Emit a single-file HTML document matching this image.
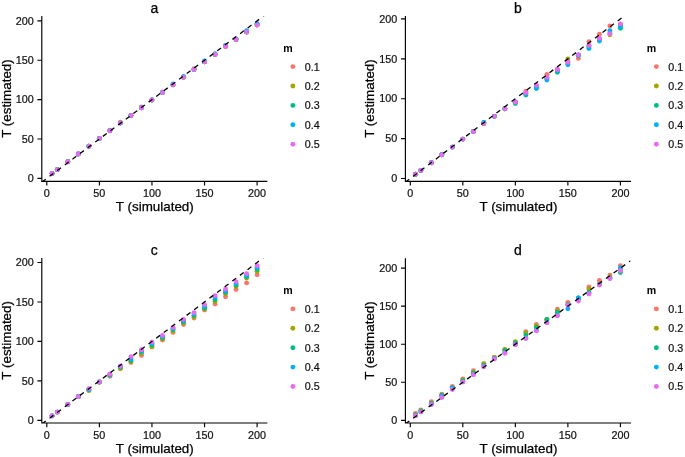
<!DOCTYPE html>
<html><head><meta charset="utf-8"><style>
html,body{margin:0;padding:0;background:#fff;}
svg{display:block;}
text{font-family:"Liberation Sans",Arial,sans-serif;fill:#000;}
.tk{font-size:10.8px;fill:#111;stroke:#111;stroke-width:0.22px;}
.lg{font-size:10.7px;fill:#111;stroke:#111;stroke-width:0.22px;}
.ti{font-size:13.4px;stroke:#000;stroke-width:0.25px;}
.pt{font-size:14.0px;stroke:#000;stroke-width:0.25px;}
.lt{font-size:10.6px;font-weight:bold;}
</style></head><body>
<svg width="685" height="457" viewBox="0 0 685 457">
<rect width="685" height="457" fill="#fff"/>
<clipPath id="clipa"><rect x="41.8" y="16.6" width="225" height="164.7"/></clipPath>
<g clip-path="url(#clipa)">
<circle cx="52.06" cy="173.56" r="2.45" fill="#F8766D"/>
<circle cx="52.06" cy="173.56" r="2.45" fill="#A3A500"/>
<circle cx="52.06" cy="173.56" r="2.45" fill="#00BF7D"/>
<circle cx="52.06" cy="173.56" r="2.45" fill="#00B0F6"/>
<circle cx="52.06" cy="173.56" r="2.45" fill="#E76BF3"/>
<circle cx="57.31" cy="169.62" r="2.45" fill="#F8766D"/>
<circle cx="57.31" cy="169.62" r="2.45" fill="#A3A500"/>
<circle cx="57.31" cy="169.62" r="2.45" fill="#00BF7D"/>
<circle cx="57.31" cy="169.62" r="2.45" fill="#00B0F6"/>
<circle cx="57.31" cy="169.62" r="2.45" fill="#E76BF3"/>
<circle cx="67.83" cy="161.75" r="2.45" fill="#F8766D"/>
<circle cx="67.83" cy="161.75" r="2.45" fill="#A3A500"/>
<circle cx="67.83" cy="161.75" r="2.45" fill="#00BF7D"/>
<circle cx="67.83" cy="161.75" r="2.45" fill="#00B0F6"/>
<circle cx="67.83" cy="161.75" r="2.45" fill="#E76BF3"/>
<circle cx="78.34" cy="153.97" r="2.45" fill="#F8766D"/>
<circle cx="78.34" cy="153.97" r="2.45" fill="#A3A500"/>
<circle cx="78.34" cy="153.97" r="2.45" fill="#00BF7D"/>
<circle cx="78.34" cy="153.97" r="2.45" fill="#00B0F6"/>
<circle cx="78.34" cy="153.97" r="2.45" fill="#E76BF3"/>
<circle cx="88.86" cy="146.2" r="2.45" fill="#F8766D"/>
<circle cx="88.86" cy="146.2" r="2.45" fill="#A3A500"/>
<circle cx="88.86" cy="146.2" r="2.45" fill="#00BF7D"/>
<circle cx="88.86" cy="146.2" r="2.45" fill="#00B0F6"/>
<circle cx="88.86" cy="146.2" r="2.45" fill="#E76BF3"/>
<circle cx="99.38" cy="138.43" r="2.45" fill="#F8766D"/>
<circle cx="99.38" cy="138.43" r="2.45" fill="#A3A500"/>
<circle cx="99.38" cy="138.43" r="2.45" fill="#00BF7D"/>
<circle cx="99.38" cy="138.43" r="2.45" fill="#00B0F6"/>
<circle cx="99.38" cy="138.43" r="2.45" fill="#E76BF3"/>
<circle cx="109.89" cy="130.15" r="2.45" fill="#F8766D"/>
<circle cx="109.89" cy="130.75" r="2.45" fill="#A3A500"/>
<circle cx="109.89" cy="130.75" r="2.45" fill="#00BF7D"/>
<circle cx="109.89" cy="130.75" r="2.45" fill="#00B0F6"/>
<circle cx="109.89" cy="130.75" r="2.45" fill="#E76BF3"/>
<circle cx="120.41" cy="122.18" r="2.45" fill="#F8766D"/>
<circle cx="120.41" cy="123.08" r="2.45" fill="#A3A500"/>
<circle cx="120.41" cy="123.08" r="2.45" fill="#00BF7D"/>
<circle cx="120.41" cy="123.08" r="2.45" fill="#00B0F6"/>
<circle cx="120.41" cy="123.08" r="2.45" fill="#E76BF3"/>
<circle cx="130.92" cy="115.4" r="2.45" fill="#F8766D"/>
<circle cx="130.92" cy="115.4" r="2.45" fill="#A3A500"/>
<circle cx="130.92" cy="115.4" r="2.45" fill="#00BF7D"/>
<circle cx="130.92" cy="115.4" r="2.45" fill="#00B0F6"/>
<circle cx="130.92" cy="115.4" r="2.45" fill="#E76BF3"/>
<circle cx="141.44" cy="106.83" r="2.45" fill="#F8766D"/>
<circle cx="141.44" cy="107.73" r="2.45" fill="#A3A500"/>
<circle cx="141.44" cy="107.73" r="2.45" fill="#00BF7D"/>
<circle cx="141.44" cy="107.73" r="2.45" fill="#00B0F6"/>
<circle cx="141.44" cy="107.73" r="2.45" fill="#E76BF3"/>
<circle cx="151.95" cy="100.05" r="2.45" fill="#F8766D"/>
<circle cx="151.95" cy="100.05" r="2.45" fill="#A3A500"/>
<circle cx="151.95" cy="100.05" r="2.45" fill="#00BF7D"/>
<circle cx="151.95" cy="100.05" r="2.45" fill="#00B0F6"/>
<circle cx="151.95" cy="100.05" r="2.45" fill="#E76BF3"/>
<circle cx="162.47" cy="91.98" r="2.45" fill="#F8766D"/>
<circle cx="162.47" cy="92.58" r="2.45" fill="#A3A500"/>
<circle cx="162.47" cy="92.58" r="2.45" fill="#00BF7D"/>
<circle cx="162.47" cy="92.58" r="2.45" fill="#00B0F6"/>
<circle cx="162.47" cy="92.58" r="2.45" fill="#E76BF3"/>
<circle cx="172.98" cy="84.9" r="2.45" fill="#F8766D"/>
<circle cx="172.98" cy="84.9" r="2.45" fill="#A3A500"/>
<circle cx="172.98" cy="84.9" r="2.45" fill="#00BF7D"/>
<circle cx="172.98" cy="84" r="2.45" fill="#00B0F6"/>
<circle cx="172.98" cy="84.9" r="2.45" fill="#E76BF3"/>
<circle cx="183.5" cy="77.23" r="2.45" fill="#F8766D"/>
<circle cx="183.5" cy="77.23" r="2.45" fill="#A3A500"/>
<circle cx="183.5" cy="77.23" r="2.45" fill="#00BF7D"/>
<circle cx="183.5" cy="76.33" r="2.45" fill="#00B0F6"/>
<circle cx="183.5" cy="77.23" r="2.45" fill="#E76BF3"/>
<circle cx="194.01" cy="68.65" r="2.45" fill="#F8766D"/>
<circle cx="194.01" cy="69.55" r="2.45" fill="#A3A500"/>
<circle cx="194.01" cy="69.55" r="2.45" fill="#00BF7D"/>
<circle cx="194.01" cy="69.55" r="2.45" fill="#00B0F6"/>
<circle cx="194.01" cy="69.55" r="2.45" fill="#E76BF3"/>
<circle cx="204.53" cy="61.88" r="2.45" fill="#F8766D"/>
<circle cx="204.53" cy="61.88" r="2.45" fill="#A3A500"/>
<circle cx="204.53" cy="61.88" r="2.45" fill="#00BF7D"/>
<circle cx="204.53" cy="60.88" r="2.45" fill="#00B0F6"/>
<circle cx="204.53" cy="61.88" r="2.45" fill="#E76BF3"/>
<circle cx="215.04" cy="54.4" r="2.45" fill="#F8766D"/>
<circle cx="215.04" cy="54.4" r="2.45" fill="#A3A500"/>
<circle cx="215.04" cy="54.4" r="2.45" fill="#00BF7D"/>
<circle cx="215.04" cy="53.7" r="2.45" fill="#00B0F6"/>
<circle cx="215.04" cy="54.4" r="2.45" fill="#E76BF3"/>
<circle cx="225.56" cy="46.53" r="2.45" fill="#F8766D"/>
<circle cx="225.56" cy="46.53" r="2.45" fill="#A3A500"/>
<circle cx="225.56" cy="45.73" r="2.45" fill="#00BF7D"/>
<circle cx="225.56" cy="45.43" r="2.45" fill="#00B0F6"/>
<circle cx="225.56" cy="46.53" r="2.45" fill="#E76BF3"/>
<circle cx="236.07" cy="39.55" r="2.45" fill="#F8766D"/>
<circle cx="236.07" cy="39.55" r="2.45" fill="#A3A500"/>
<circle cx="236.07" cy="39.55" r="2.45" fill="#00BF7D"/>
<circle cx="236.07" cy="38.85" r="2.45" fill="#00B0F6"/>
<circle cx="236.07" cy="39.55" r="2.45" fill="#E76BF3"/>
<circle cx="246.59" cy="31.98" r="2.45" fill="#F8766D"/>
<circle cx="246.59" cy="31.98" r="2.45" fill="#A3A500"/>
<circle cx="246.59" cy="31.98" r="2.45" fill="#00BF7D"/>
<circle cx="246.59" cy="30.78" r="2.45" fill="#00B0F6"/>
<circle cx="246.59" cy="31.98" r="2.45" fill="#E76BF3"/>
<circle cx="257.1" cy="25.1" r="2.45" fill="#F8766D"/>
<circle cx="257.1" cy="25.1" r="2.45" fill="#A3A500"/>
<circle cx="257.1" cy="24.1" r="2.45" fill="#00BF7D"/>
<circle cx="257.1" cy="23.7" r="2.45" fill="#00B0F6"/>
<circle cx="257.1" cy="25.1" r="2.45" fill="#E76BF3"/>
<line x1="41.81" y1="182.14" x2="267.35" y2="13.22" stroke="#000" stroke-width="1.3" stroke-dasharray="4.76 4.76" stroke-dashoffset="9.34"/>
</g>
<path d="M41.8 16.6V181.3H266.8" fill="none" stroke="#000" stroke-width="1.15" stroke-linecap="square"/>
<path d="M46.8 181.3v4.3M41.8 178.4h-4.4M99.38 181.3v4.3M41.8 139.03h-4.4M151.95 181.3v4.3M41.8 99.65h-4.4M204.53 181.3v4.3M41.8 60.28h-4.4M257.1 181.3v4.3M41.8 20.9h-4.4" stroke="#000" stroke-width="1.15"/>
<text x="46.8" y="196.9" text-anchor="middle" class="tk">0</text>
<text x="33.7" y="182.15" text-anchor="end" class="tk">0</text>
<text x="99.38" y="196.9" text-anchor="middle" class="tk">50</text>
<text x="33.7" y="142.78" text-anchor="end" class="tk">50</text>
<text x="151.95" y="196.9" text-anchor="middle" class="tk">100</text>
<text x="33.7" y="103.4" text-anchor="end" class="tk">100</text>
<text x="204.53" y="196.9" text-anchor="middle" class="tk">150</text>
<text x="33.7" y="64.03" text-anchor="end" class="tk">150</text>
<text x="257.1" y="196.9" text-anchor="middle" class="tk">200</text>
<text x="33.7" y="24.65" text-anchor="end" class="tk">200</text>
<text x="154.8" y="211.1" text-anchor="middle" class="ti">T (simulated)</text>
<text transform="translate(10.7 98.55) rotate(-90)" text-anchor="middle" class="ti">T (estimated)</text>
<text x="154.3" y="12.9" text-anchor="middle" class="pt">a</text>
<text x="283.25" y="51.6" class="lt">m</text>
<circle cx="292.85" cy="66.6" r="2.45" fill="#F8766D"/>
<text x="304.75" y="70.5" class="lg">0.1</text>
<circle cx="292.85" cy="86" r="2.45" fill="#A3A500"/>
<text x="304.75" y="89.9" class="lg">0.2</text>
<circle cx="292.85" cy="105.4" r="2.45" fill="#00BF7D"/>
<text x="304.75" y="109.3" class="lg">0.3</text>
<circle cx="292.85" cy="124.8" r="2.45" fill="#00B0F6"/>
<text x="304.75" y="128.7" class="lg">0.4</text>
<circle cx="292.85" cy="144.2" r="2.45" fill="#E76BF3"/>
<text x="304.75" y="148.1" class="lg">0.5</text>
<clipPath id="clipb"><rect x="405.4" y="16.6" width="225.1" height="164.7"/></clipPath>
<g clip-path="url(#clipb)">
<circle cx="415.55" cy="174.31" r="2.45" fill="#F8766D"/>
<circle cx="415.55" cy="174.31" r="2.45" fill="#A3A500"/>
<circle cx="415.55" cy="174.31" r="2.45" fill="#00BF7D"/>
<circle cx="415.55" cy="174.31" r="2.45" fill="#00B0F6"/>
<circle cx="415.55" cy="174.31" r="2.45" fill="#E76BF3"/>
<circle cx="420.81" cy="170.42" r="2.45" fill="#F8766D"/>
<circle cx="420.81" cy="170.42" r="2.45" fill="#A3A500"/>
<circle cx="420.81" cy="170.42" r="2.45" fill="#00BF7D"/>
<circle cx="420.81" cy="170.42" r="2.45" fill="#00B0F6"/>
<circle cx="420.81" cy="170.42" r="2.45" fill="#E76BF3"/>
<circle cx="431.31" cy="162.74" r="2.45" fill="#F8766D"/>
<circle cx="431.31" cy="162.74" r="2.45" fill="#A3A500"/>
<circle cx="431.31" cy="162.74" r="2.45" fill="#00BF7D"/>
<circle cx="431.31" cy="162.74" r="2.45" fill="#00B0F6"/>
<circle cx="431.31" cy="162.74" r="2.45" fill="#E76BF3"/>
<circle cx="441.81" cy="154.76" r="2.45" fill="#F8766D"/>
<circle cx="441.81" cy="154.76" r="2.45" fill="#A3A500"/>
<circle cx="441.81" cy="154.76" r="2.45" fill="#00BF7D"/>
<circle cx="441.81" cy="154.76" r="2.45" fill="#00B0F6"/>
<circle cx="441.81" cy="154.76" r="2.45" fill="#E76BF3"/>
<circle cx="452.32" cy="147.08" r="2.45" fill="#F8766D"/>
<circle cx="452.32" cy="147.08" r="2.45" fill="#A3A500"/>
<circle cx="452.32" cy="147.08" r="2.45" fill="#00BF7D"/>
<circle cx="452.32" cy="147.08" r="2.45" fill="#00B0F6"/>
<circle cx="452.32" cy="147.08" r="2.45" fill="#E76BF3"/>
<circle cx="462.82" cy="139.1" r="2.45" fill="#F8766D"/>
<circle cx="462.82" cy="139.1" r="2.45" fill="#A3A500"/>
<circle cx="462.82" cy="139.1" r="2.45" fill="#00BF7D"/>
<circle cx="462.82" cy="139.1" r="2.45" fill="#00B0F6"/>
<circle cx="462.82" cy="139.1" r="2.45" fill="#E76BF3"/>
<circle cx="473.33" cy="131.62" r="2.45" fill="#F8766D"/>
<circle cx="473.33" cy="131.62" r="2.45" fill="#A3A500"/>
<circle cx="473.33" cy="131.62" r="2.45" fill="#00BF7D"/>
<circle cx="473.33" cy="131.62" r="2.45" fill="#00B0F6"/>
<circle cx="473.33" cy="131.62" r="2.45" fill="#E76BF3"/>
<circle cx="483.84" cy="123.64" r="2.45" fill="#F8766D"/>
<circle cx="483.84" cy="123.64" r="2.45" fill="#A3A500"/>
<circle cx="483.84" cy="122.44" r="2.45" fill="#00BF7D"/>
<circle cx="483.84" cy="122.34" r="2.45" fill="#00B0F6"/>
<circle cx="483.84" cy="123.64" r="2.45" fill="#E76BF3"/>
<circle cx="494.34" cy="116.36" r="2.45" fill="#F8766D"/>
<circle cx="494.34" cy="116.36" r="2.45" fill="#A3A500"/>
<circle cx="494.34" cy="116.36" r="2.45" fill="#00BF7D"/>
<circle cx="494.34" cy="116.36" r="2.45" fill="#00B0F6"/>
<circle cx="494.34" cy="116.36" r="2.45" fill="#E76BF3"/>
<circle cx="504.85" cy="108.68" r="2.45" fill="#F8766D"/>
<circle cx="504.85" cy="108.68" r="2.45" fill="#A3A500"/>
<circle cx="504.85" cy="108.68" r="2.45" fill="#00BF7D"/>
<circle cx="504.85" cy="108.68" r="2.45" fill="#00B0F6"/>
<circle cx="504.85" cy="108.68" r="2.45" fill="#E76BF3"/>
<circle cx="515.35" cy="102" r="2.45" fill="#F8766D"/>
<circle cx="515.35" cy="102.2" r="2.45" fill="#A3A500"/>
<circle cx="515.35" cy="103.6" r="2.45" fill="#00BF7D"/>
<circle cx="515.35" cy="102.3" r="2.45" fill="#00B0F6"/>
<circle cx="515.35" cy="102.1" r="2.45" fill="#E76BF3"/>
<circle cx="525.86" cy="91.22" r="2.45" fill="#F8766D"/>
<circle cx="525.86" cy="93.72" r="2.45" fill="#A3A500"/>
<circle cx="525.86" cy="95.02" r="2.45" fill="#00BF7D"/>
<circle cx="525.86" cy="93.72" r="2.45" fill="#00B0F6"/>
<circle cx="525.86" cy="92.72" r="2.45" fill="#E76BF3"/>
<circle cx="536.36" cy="85.74" r="2.45" fill="#F8766D"/>
<circle cx="536.36" cy="86.74" r="2.45" fill="#A3A500"/>
<circle cx="536.36" cy="88.54" r="2.45" fill="#00BF7D"/>
<circle cx="536.36" cy="87.74" r="2.45" fill="#00B0F6"/>
<circle cx="536.36" cy="85.34" r="2.45" fill="#E76BF3"/>
<circle cx="546.87" cy="74.36" r="2.45" fill="#F8766D"/>
<circle cx="546.87" cy="77.76" r="2.45" fill="#A3A500"/>
<circle cx="546.87" cy="78.76" r="2.45" fill="#00BF7D"/>
<circle cx="546.87" cy="79.96" r="2.45" fill="#00B0F6"/>
<circle cx="546.87" cy="77.36" r="2.45" fill="#E76BF3"/>
<circle cx="557.37" cy="69.78" r="2.45" fill="#F8766D"/>
<circle cx="557.37" cy="69.78" r="2.45" fill="#A3A500"/>
<circle cx="557.37" cy="72.18" r="2.45" fill="#00BF7D"/>
<circle cx="557.37" cy="70.78" r="2.45" fill="#00B0F6"/>
<circle cx="557.37" cy="69.48" r="2.45" fill="#E76BF3"/>
<circle cx="567.88" cy="61.8" r="2.45" fill="#F8766D"/>
<circle cx="567.88" cy="59" r="2.45" fill="#A3A500"/>
<circle cx="567.88" cy="63.8" r="2.45" fill="#00BF7D"/>
<circle cx="567.88" cy="64.7" r="2.45" fill="#00B0F6"/>
<circle cx="567.88" cy="62.3" r="2.45" fill="#E76BF3"/>
<circle cx="578.38" cy="58.42" r="2.45" fill="#F8766D"/>
<circle cx="578.38" cy="55.32" r="2.45" fill="#A3A500"/>
<circle cx="578.38" cy="55.32" r="2.45" fill="#00BF7D"/>
<circle cx="578.38" cy="55.32" r="2.45" fill="#00B0F6"/>
<circle cx="578.38" cy="54.72" r="2.45" fill="#E76BF3"/>
<circle cx="588.88" cy="41.64" r="2.45" fill="#F8766D"/>
<circle cx="588.88" cy="45.84" r="2.45" fill="#A3A500"/>
<circle cx="588.88" cy="46.84" r="2.45" fill="#00BF7D"/>
<circle cx="588.88" cy="48.54" r="2.45" fill="#00B0F6"/>
<circle cx="588.88" cy="45.54" r="2.45" fill="#E76BF3"/>
<circle cx="599.39" cy="34.16" r="2.45" fill="#F8766D"/>
<circle cx="599.39" cy="38.86" r="2.45" fill="#A3A500"/>
<circle cx="599.39" cy="39.86" r="2.45" fill="#00BF7D"/>
<circle cx="599.39" cy="41.06" r="2.45" fill="#00B0F6"/>
<circle cx="599.39" cy="38.16" r="2.45" fill="#E76BF3"/>
<circle cx="609.89" cy="25.98" r="2.45" fill="#F8766D"/>
<circle cx="609.89" cy="34.78" r="2.45" fill="#A3A500"/>
<circle cx="609.89" cy="32.88" r="2.45" fill="#00BF7D"/>
<circle cx="609.89" cy="30.78" r="2.45" fill="#00B0F6"/>
<circle cx="609.89" cy="33.68" r="2.45" fill="#E76BF3"/>
<circle cx="620.4" cy="24.9" r="2.45" fill="#F8766D"/>
<circle cx="620.4" cy="24.9" r="2.45" fill="#A3A500"/>
<circle cx="620.4" cy="28.3" r="2.45" fill="#00BF7D"/>
<circle cx="620.4" cy="26.8" r="2.45" fill="#00B0F6"/>
<circle cx="620.4" cy="23.9" r="2.45" fill="#E76BF3"/>
<line x1="405.31" y1="182.29" x2="630.64" y2="11.12" stroke="#000" stroke-width="1.3" stroke-dasharray="4.76 4.76" stroke-dashoffset="9.34"/>
</g>
<path d="M405.4 16.6V181.3H630.5" fill="none" stroke="#000" stroke-width="1.15" stroke-linecap="square"/>
<path d="M410.3 181.3v4.3M405.4 178.5h-4.4M462.82 181.3v4.3M405.4 138.6h-4.4M515.35 181.3v4.3M405.4 98.7h-4.4M567.88 181.3v4.3M405.4 58.8h-4.4M620.4 181.3v4.3M405.4 18.9h-4.4" stroke="#000" stroke-width="1.15"/>
<text x="410.3" y="196.9" text-anchor="middle" class="tk">0</text>
<text x="397.3" y="182.25" text-anchor="end" class="tk">0</text>
<text x="462.82" y="196.9" text-anchor="middle" class="tk">50</text>
<text x="397.3" y="142.35" text-anchor="end" class="tk">50</text>
<text x="515.35" y="196.9" text-anchor="middle" class="tk">100</text>
<text x="397.3" y="102.45" text-anchor="end" class="tk">100</text>
<text x="567.88" y="196.9" text-anchor="middle" class="tk">150</text>
<text x="397.3" y="62.55" text-anchor="end" class="tk">150</text>
<text x="620.4" y="196.9" text-anchor="middle" class="tk">200</text>
<text x="397.3" y="22.65" text-anchor="end" class="tk">200</text>
<text x="518.45" y="211.1" text-anchor="middle" class="ti">T (simulated)</text>
<text transform="translate(374.2 98.55) rotate(-90)" text-anchor="middle" class="ti">T (estimated)</text>
<text x="517.95" y="12.9" text-anchor="middle" class="pt">b</text>
<text x="646.75" y="51.6" class="lt">m</text>
<circle cx="656.35" cy="66.6" r="2.45" fill="#F8766D"/>
<text x="668.25" y="70.5" class="lg">0.1</text>
<circle cx="656.35" cy="86" r="2.45" fill="#A3A500"/>
<text x="668.25" y="89.9" class="lg">0.2</text>
<circle cx="656.35" cy="105.4" r="2.45" fill="#00BF7D"/>
<text x="668.25" y="109.3" class="lg">0.3</text>
<circle cx="656.35" cy="124.8" r="2.45" fill="#00B0F6"/>
<text x="668.25" y="128.7" class="lg">0.4</text>
<circle cx="656.35" cy="144.2" r="2.45" fill="#E76BF3"/>
<text x="668.25" y="148.1" class="lg">0.5</text>
<clipPath id="clipc"><rect x="41.8" y="258.5" width="225" height="164.5"/></clipPath>
<g clip-path="url(#clipc)">
<circle cx="52.06" cy="415.86" r="2.45" fill="#F8766D"/>
<circle cx="52.06" cy="415.86" r="2.45" fill="#A3A500"/>
<circle cx="52.06" cy="415.86" r="2.45" fill="#00BF7D"/>
<circle cx="52.06" cy="415.86" r="2.45" fill="#00B0F6"/>
<circle cx="52.06" cy="415.86" r="2.45" fill="#E76BF3"/>
<circle cx="57.31" cy="412.11" r="2.45" fill="#F8766D"/>
<circle cx="57.31" cy="412.11" r="2.45" fill="#A3A500"/>
<circle cx="57.31" cy="412.11" r="2.45" fill="#00BF7D"/>
<circle cx="57.31" cy="412.11" r="2.45" fill="#00B0F6"/>
<circle cx="57.31" cy="412.11" r="2.45" fill="#E76BF3"/>
<circle cx="67.83" cy="404.52" r="2.45" fill="#F8766D"/>
<circle cx="67.83" cy="404.52" r="2.45" fill="#A3A500"/>
<circle cx="67.83" cy="404.52" r="2.45" fill="#00BF7D"/>
<circle cx="67.83" cy="404.52" r="2.45" fill="#00B0F6"/>
<circle cx="67.83" cy="404.52" r="2.45" fill="#E76BF3"/>
<circle cx="78.34" cy="396.63" r="2.45" fill="#F8766D"/>
<circle cx="78.34" cy="396.63" r="2.45" fill="#A3A500"/>
<circle cx="78.34" cy="396.63" r="2.45" fill="#00BF7D"/>
<circle cx="78.34" cy="396.63" r="2.45" fill="#00B0F6"/>
<circle cx="78.34" cy="396.63" r="2.45" fill="#E76BF3"/>
<circle cx="88.86" cy="389.74" r="2.45" fill="#F8766D"/>
<circle cx="88.86" cy="390.64" r="2.45" fill="#A3A500"/>
<circle cx="88.86" cy="389.74" r="2.45" fill="#00BF7D"/>
<circle cx="88.86" cy="389.74" r="2.45" fill="#00B0F6"/>
<circle cx="88.86" cy="388.74" r="2.45" fill="#E76BF3"/>
<circle cx="99.38" cy="382.35" r="2.45" fill="#F8766D"/>
<circle cx="99.38" cy="382.35" r="2.45" fill="#A3A500"/>
<circle cx="99.38" cy="382.05" r="2.45" fill="#00BF7D"/>
<circle cx="99.38" cy="381.85" r="2.45" fill="#00B0F6"/>
<circle cx="99.38" cy="381.65" r="2.45" fill="#E76BF3"/>
<circle cx="109.89" cy="376.26" r="2.45" fill="#F8766D"/>
<circle cx="109.89" cy="375.16" r="2.45" fill="#A3A500"/>
<circle cx="109.89" cy="374.96" r="2.45" fill="#00BF7D"/>
<circle cx="109.89" cy="374.46" r="2.45" fill="#00B0F6"/>
<circle cx="109.89" cy="373.96" r="2.45" fill="#E76BF3"/>
<circle cx="120.41" cy="368.57" r="2.45" fill="#F8766D"/>
<circle cx="120.41" cy="368.57" r="2.45" fill="#A3A500"/>
<circle cx="120.41" cy="367.07" r="2.45" fill="#00BF7D"/>
<circle cx="120.41" cy="366.57" r="2.45" fill="#00B0F6"/>
<circle cx="120.41" cy="365.97" r="2.45" fill="#E76BF3"/>
<circle cx="130.92" cy="362.48" r="2.45" fill="#F8766D"/>
<circle cx="130.92" cy="361.48" r="2.45" fill="#A3A500"/>
<circle cx="130.92" cy="360.48" r="2.45" fill="#00BF7D"/>
<circle cx="130.92" cy="358.98" r="2.45" fill="#00B0F6"/>
<circle cx="130.92" cy="356.68" r="2.45" fill="#E76BF3"/>
<circle cx="141.44" cy="355.39" r="2.45" fill="#F8766D"/>
<circle cx="141.44" cy="353.29" r="2.45" fill="#A3A500"/>
<circle cx="141.44" cy="351.79" r="2.45" fill="#00BF7D"/>
<circle cx="141.44" cy="350.79" r="2.45" fill="#00B0F6"/>
<circle cx="141.44" cy="349.79" r="2.45" fill="#E76BF3"/>
<circle cx="151.95" cy="346.9" r="2.45" fill="#F8766D"/>
<circle cx="151.95" cy="346.7" r="2.45" fill="#A3A500"/>
<circle cx="151.95" cy="344.9" r="2.45" fill="#00BF7D"/>
<circle cx="151.95" cy="343.4" r="2.45" fill="#00B0F6"/>
<circle cx="151.95" cy="342.1" r="2.45" fill="#E76BF3"/>
<circle cx="162.47" cy="340.11" r="2.45" fill="#F8766D"/>
<circle cx="162.47" cy="339.01" r="2.45" fill="#A3A500"/>
<circle cx="162.47" cy="337.51" r="2.45" fill="#00BF7D"/>
<circle cx="162.47" cy="336.51" r="2.45" fill="#00B0F6"/>
<circle cx="162.47" cy="335.51" r="2.45" fill="#E76BF3"/>
<circle cx="172.98" cy="332.42" r="2.45" fill="#F8766D"/>
<circle cx="172.98" cy="331.12" r="2.45" fill="#A3A500"/>
<circle cx="172.98" cy="329.62" r="2.45" fill="#00BF7D"/>
<circle cx="172.98" cy="328.62" r="2.45" fill="#00B0F6"/>
<circle cx="172.98" cy="327.62" r="2.45" fill="#E76BF3"/>
<circle cx="183.5" cy="324.43" r="2.45" fill="#F8766D"/>
<circle cx="183.5" cy="323.23" r="2.45" fill="#A3A500"/>
<circle cx="183.5" cy="321.73" r="2.45" fill="#00BF7D"/>
<circle cx="183.5" cy="320.73" r="2.45" fill="#00B0F6"/>
<circle cx="183.5" cy="319.33" r="2.45" fill="#E76BF3"/>
<circle cx="194.01" cy="317.94" r="2.45" fill="#F8766D"/>
<circle cx="194.01" cy="317.04" r="2.45" fill="#A3A500"/>
<circle cx="194.01" cy="315.34" r="2.45" fill="#00BF7D"/>
<circle cx="194.01" cy="313.84" r="2.45" fill="#00B0F6"/>
<circle cx="194.01" cy="312.64" r="2.45" fill="#E76BF3"/>
<circle cx="204.53" cy="309.95" r="2.45" fill="#F8766D"/>
<circle cx="204.53" cy="308.95" r="2.45" fill="#A3A500"/>
<circle cx="204.53" cy="307.95" r="2.45" fill="#00BF7D"/>
<circle cx="204.53" cy="306.45" r="2.45" fill="#00B0F6"/>
<circle cx="204.53" cy="304.65" r="2.45" fill="#E76BF3"/>
<circle cx="215.04" cy="304.06" r="2.45" fill="#F8766D"/>
<circle cx="215.04" cy="301.56" r="2.45" fill="#A3A500"/>
<circle cx="215.04" cy="299.56" r="2.45" fill="#00BF7D"/>
<circle cx="215.04" cy="297.56" r="2.45" fill="#00B0F6"/>
<circle cx="215.04" cy="295.66" r="2.45" fill="#E76BF3"/>
<circle cx="225.56" cy="296.77" r="2.45" fill="#F8766D"/>
<circle cx="225.56" cy="293.87" r="2.45" fill="#A3A500"/>
<circle cx="225.56" cy="292.37" r="2.45" fill="#00BF7D"/>
<circle cx="225.56" cy="290.87" r="2.45" fill="#00B0F6"/>
<circle cx="225.56" cy="288.97" r="2.45" fill="#E76BF3"/>
<circle cx="236.07" cy="289.48" r="2.45" fill="#F8766D"/>
<circle cx="236.07" cy="286.48" r="2.45" fill="#A3A500"/>
<circle cx="236.07" cy="284.98" r="2.45" fill="#00BF7D"/>
<circle cx="236.07" cy="283.58" r="2.45" fill="#00B0F6"/>
<circle cx="236.07" cy="281.58" r="2.45" fill="#E76BF3"/>
<circle cx="246.59" cy="282.89" r="2.45" fill="#F8766D"/>
<circle cx="246.59" cy="278.09" r="2.45" fill="#A3A500"/>
<circle cx="246.59" cy="276.69" r="2.45" fill="#00BF7D"/>
<circle cx="246.59" cy="275.19" r="2.45" fill="#00B0F6"/>
<circle cx="246.59" cy="273.69" r="2.45" fill="#E76BF3"/>
<circle cx="257.1" cy="274.7" r="2.45" fill="#F8766D"/>
<circle cx="257.1" cy="271.2" r="2.45" fill="#A3A500"/>
<circle cx="257.1" cy="269.3" r="2.45" fill="#00BF7D"/>
<circle cx="257.1" cy="267.6" r="2.45" fill="#00B0F6"/>
<circle cx="257.1" cy="265.8" r="2.45" fill="#E76BF3"/>
<line x1="41.81" y1="424.05" x2="267.35" y2="254.81" stroke="#000" stroke-width="1.3" stroke-dasharray="4.76 4.76" stroke-dashoffset="9.34"/>
</g>
<path d="M41.8 258.5V423H266.8" fill="none" stroke="#000" stroke-width="1.15" stroke-linecap="square"/>
<path d="M46.8 423v4.3M41.8 420.3h-4.4M99.38 423v4.3M41.8 380.85h-4.4M151.95 423v4.3M41.8 341.4h-4.4M204.53 423v4.3M41.8 301.95h-4.4M257.1 423v4.3M41.8 262.5h-4.4" stroke="#000" stroke-width="1.15"/>
<text x="46.8" y="438.6" text-anchor="middle" class="tk">0</text>
<text x="33.7" y="424.05" text-anchor="end" class="tk">0</text>
<text x="99.38" y="438.6" text-anchor="middle" class="tk">50</text>
<text x="33.7" y="384.6" text-anchor="end" class="tk">50</text>
<text x="151.95" y="438.6" text-anchor="middle" class="tk">100</text>
<text x="33.7" y="345.15" text-anchor="end" class="tk">100</text>
<text x="204.53" y="438.6" text-anchor="middle" class="tk">150</text>
<text x="33.7" y="305.7" text-anchor="end" class="tk">150</text>
<text x="257.1" y="438.6" text-anchor="middle" class="tk">200</text>
<text x="33.7" y="266.25" text-anchor="end" class="tk">200</text>
<text x="154.8" y="452.8" text-anchor="middle" class="ti">T (simulated)</text>
<text transform="translate(10.7 340.35) rotate(-90)" text-anchor="middle" class="ti">T (estimated)</text>
<text x="154.3" y="254.6" text-anchor="middle" class="pt">c</text>
<text x="283.25" y="293.9" class="lt">m</text>
<circle cx="292.85" cy="308.9" r="2.45" fill="#F8766D"/>
<text x="304.75" y="312.8" class="lg">0.1</text>
<circle cx="292.85" cy="328.3" r="2.45" fill="#A3A500"/>
<text x="304.75" y="332.2" class="lg">0.2</text>
<circle cx="292.85" cy="347.7" r="2.45" fill="#00BF7D"/>
<text x="304.75" y="351.6" class="lg">0.3</text>
<circle cx="292.85" cy="367.1" r="2.45" fill="#00B0F6"/>
<text x="304.75" y="371" class="lg">0.4</text>
<circle cx="292.85" cy="386.5" r="2.45" fill="#E76BF3"/>
<text x="304.75" y="390.4" class="lg">0.5</text>
<clipPath id="clipd"><rect x="405.4" y="258.9" width="225.1" height="164.1"/></clipPath>
<g clip-path="url(#clipd)">
<circle cx="415.55" cy="413.39" r="2.45" fill="#F8766D"/>
<circle cx="415.55" cy="414.5" r="2.45" fill="#A3A500"/>
<circle cx="415.55" cy="415" r="2.45" fill="#00BF7D"/>
<circle cx="415.55" cy="415.39" r="2.45" fill="#00B0F6"/>
<circle cx="415.55" cy="415.8" r="2.45" fill="#E76BF3"/>
<circle cx="420.81" cy="409.89" r="2.45" fill="#F8766D"/>
<circle cx="420.81" cy="410.69" r="2.45" fill="#A3A500"/>
<circle cx="420.81" cy="411.19" r="2.45" fill="#00BF7D"/>
<circle cx="420.81" cy="411.69" r="2.45" fill="#00B0F6"/>
<circle cx="420.81" cy="412.09" r="2.45" fill="#E76BF3"/>
<circle cx="431.31" cy="401.78" r="2.45" fill="#F8766D"/>
<circle cx="431.31" cy="402.88" r="2.45" fill="#A3A500"/>
<circle cx="431.31" cy="403.38" r="2.45" fill="#00BF7D"/>
<circle cx="431.31" cy="404.18" r="2.45" fill="#00B0F6"/>
<circle cx="431.31" cy="404.58" r="2.45" fill="#E76BF3"/>
<circle cx="441.81" cy="394.17" r="2.45" fill="#F8766D"/>
<circle cx="441.81" cy="395.07" r="2.45" fill="#A3A500"/>
<circle cx="441.81" cy="395.47" r="2.45" fill="#00BF7D"/>
<circle cx="441.81" cy="395.87" r="2.45" fill="#00B0F6"/>
<circle cx="441.81" cy="397.57" r="2.45" fill="#E76BF3"/>
<circle cx="452.32" cy="386.36" r="2.45" fill="#F8766D"/>
<circle cx="452.32" cy="387.46" r="2.45" fill="#A3A500"/>
<circle cx="452.32" cy="387.86" r="2.45" fill="#00BF7D"/>
<circle cx="452.32" cy="387.86" r="2.45" fill="#00B0F6"/>
<circle cx="452.32" cy="389.56" r="2.45" fill="#E76BF3"/>
<circle cx="462.82" cy="378.85" r="2.45" fill="#F8766D"/>
<circle cx="462.82" cy="379.85" r="2.45" fill="#A3A500"/>
<circle cx="462.82" cy="380.75" r="2.45" fill="#00BF7D"/>
<circle cx="462.82" cy="381.65" r="2.45" fill="#00B0F6"/>
<circle cx="462.82" cy="382.05" r="2.45" fill="#E76BF3"/>
<circle cx="473.33" cy="370.64" r="2.45" fill="#F8766D"/>
<circle cx="473.33" cy="372.24" r="2.45" fill="#A3A500"/>
<circle cx="473.33" cy="373.14" r="2.45" fill="#00BF7D"/>
<circle cx="473.33" cy="374.24" r="2.45" fill="#00B0F6"/>
<circle cx="473.33" cy="374.64" r="2.45" fill="#E76BF3"/>
<circle cx="483.84" cy="363.83" r="2.45" fill="#F8766D"/>
<circle cx="483.84" cy="363.63" r="2.45" fill="#A3A500"/>
<circle cx="483.84" cy="365.53" r="2.45" fill="#00BF7D"/>
<circle cx="483.84" cy="366.33" r="2.45" fill="#00B0F6"/>
<circle cx="483.84" cy="366.73" r="2.45" fill="#E76BF3"/>
<circle cx="494.34" cy="357.42" r="2.45" fill="#F8766D"/>
<circle cx="494.34" cy="357.42" r="2.45" fill="#A3A500"/>
<circle cx="494.34" cy="358.42" r="2.45" fill="#00BF7D"/>
<circle cx="494.34" cy="358.62" r="2.45" fill="#00B0F6"/>
<circle cx="494.34" cy="359.02" r="2.45" fill="#E76BF3"/>
<circle cx="504.85" cy="349.51" r="2.45" fill="#F8766D"/>
<circle cx="504.85" cy="349.61" r="2.45" fill="#A3A500"/>
<circle cx="504.85" cy="350.41" r="2.45" fill="#00BF7D"/>
<circle cx="504.85" cy="352.81" r="2.45" fill="#00B0F6"/>
<circle cx="504.85" cy="353.21" r="2.45" fill="#E76BF3"/>
<circle cx="515.35" cy="342.4" r="2.45" fill="#F8766D"/>
<circle cx="515.35" cy="341.8" r="2.45" fill="#A3A500"/>
<circle cx="515.35" cy="343.2" r="2.45" fill="#00BF7D"/>
<circle cx="515.35" cy="344.3" r="2.45" fill="#00B0F6"/>
<circle cx="515.35" cy="344.7" r="2.45" fill="#E76BF3"/>
<circle cx="525.86" cy="331.59" r="2.45" fill="#F8766D"/>
<circle cx="525.86" cy="332.99" r="2.45" fill="#A3A500"/>
<circle cx="525.86" cy="335.09" r="2.45" fill="#00BF7D"/>
<circle cx="525.86" cy="338.19" r="2.45" fill="#00B0F6"/>
<circle cx="525.86" cy="338.59" r="2.45" fill="#E76BF3"/>
<circle cx="536.36" cy="324.48" r="2.45" fill="#F8766D"/>
<circle cx="536.36" cy="326.18" r="2.45" fill="#A3A500"/>
<circle cx="536.36" cy="327.63" r="2.45" fill="#00BF7D"/>
<circle cx="536.36" cy="330.38" r="2.45" fill="#00B0F6"/>
<circle cx="536.36" cy="330.78" r="2.45" fill="#E76BF3"/>
<circle cx="546.87" cy="319.97" r="2.45" fill="#F8766D"/>
<circle cx="546.87" cy="319.57" r="2.45" fill="#A3A500"/>
<circle cx="546.87" cy="319.57" r="2.45" fill="#00BF7D"/>
<circle cx="546.87" cy="322.47" r="2.45" fill="#00B0F6"/>
<circle cx="546.87" cy="322.87" r="2.45" fill="#E76BF3"/>
<circle cx="557.37" cy="309.16" r="2.45" fill="#F8766D"/>
<circle cx="557.37" cy="310.96" r="2.45" fill="#A3A500"/>
<circle cx="557.37" cy="312.51" r="2.45" fill="#00BF7D"/>
<circle cx="557.37" cy="315.46" r="2.45" fill="#00B0F6"/>
<circle cx="557.37" cy="315.86" r="2.45" fill="#E76BF3"/>
<circle cx="567.88" cy="302.55" r="2.45" fill="#F8766D"/>
<circle cx="567.88" cy="304.15" r="2.45" fill="#A3A500"/>
<circle cx="567.88" cy="304.65" r="2.45" fill="#00BF7D"/>
<circle cx="567.88" cy="308.85" r="2.45" fill="#00B0F6"/>
<circle cx="567.88" cy="305.15" r="2.45" fill="#E76BF3"/>
<circle cx="578.38" cy="299.04" r="2.45" fill="#F8766D"/>
<circle cx="578.38" cy="299.04" r="2.45" fill="#A3A500"/>
<circle cx="578.38" cy="298.04" r="2.45" fill="#00BF7D"/>
<circle cx="578.38" cy="297.94" r="2.45" fill="#00B0F6"/>
<circle cx="578.38" cy="300.94" r="2.45" fill="#E76BF3"/>
<circle cx="588.88" cy="286.93" r="2.45" fill="#F8766D"/>
<circle cx="588.88" cy="288.93" r="2.45" fill="#A3A500"/>
<circle cx="588.88" cy="292.43" r="2.45" fill="#00BF7D"/>
<circle cx="588.88" cy="293.53" r="2.45" fill="#00B0F6"/>
<circle cx="588.88" cy="293.93" r="2.45" fill="#E76BF3"/>
<circle cx="599.39" cy="280.52" r="2.45" fill="#F8766D"/>
<circle cx="599.39" cy="284.12" r="2.45" fill="#A3A500"/>
<circle cx="599.39" cy="284.52" r="2.45" fill="#00BF7D"/>
<circle cx="599.39" cy="284.72" r="2.45" fill="#00B0F6"/>
<circle cx="599.39" cy="285.12" r="2.45" fill="#E76BF3"/>
<circle cx="609.89" cy="275.11" r="2.45" fill="#F8766D"/>
<circle cx="609.89" cy="277.51" r="2.45" fill="#A3A500"/>
<circle cx="609.89" cy="277.91" r="2.45" fill="#00BF7D"/>
<circle cx="609.89" cy="278.21" r="2.45" fill="#00B0F6"/>
<circle cx="609.89" cy="278.61" r="2.45" fill="#E76BF3"/>
<circle cx="620.4" cy="265.7" r="2.45" fill="#F8766D"/>
<circle cx="620.4" cy="269.1" r="2.45" fill="#A3A500"/>
<circle cx="620.4" cy="272.5" r="2.45" fill="#00BF7D"/>
<circle cx="620.4" cy="267.9" r="2.45" fill="#00B0F6"/>
<circle cx="620.4" cy="270.8" r="2.45" fill="#E76BF3"/>
<line x1="405.31" y1="423.91" x2="630.64" y2="260.68" stroke="#000" stroke-width="1.3" stroke-dasharray="4.76 4.76" stroke-dashoffset="9.34"/>
</g>
<path d="M405.4 258.9V423H630.5" fill="none" stroke="#000" stroke-width="1.15" stroke-linecap="square"/>
<path d="M410.3 423v4.3M405.4 420.3h-4.4M462.82 423v4.3M405.4 382.25h-4.4M515.35 423v4.3M405.4 344.2h-4.4M567.88 423v4.3M405.4 306.15h-4.4M620.4 423v4.3M405.4 268.1h-4.4" stroke="#000" stroke-width="1.15"/>
<text x="410.3" y="438.6" text-anchor="middle" class="tk">0</text>
<text x="397.3" y="424.05" text-anchor="end" class="tk">0</text>
<text x="462.82" y="438.6" text-anchor="middle" class="tk">50</text>
<text x="397.3" y="386" text-anchor="end" class="tk">50</text>
<text x="515.35" y="438.6" text-anchor="middle" class="tk">100</text>
<text x="397.3" y="347.95" text-anchor="end" class="tk">100</text>
<text x="567.88" y="438.6" text-anchor="middle" class="tk">150</text>
<text x="397.3" y="309.9" text-anchor="end" class="tk">150</text>
<text x="620.4" y="438.6" text-anchor="middle" class="tk">200</text>
<text x="397.3" y="271.85" text-anchor="end" class="tk">200</text>
<text x="518.45" y="452.8" text-anchor="middle" class="ti">T (simulated)</text>
<text transform="translate(374.2 340.55) rotate(-90)" text-anchor="middle" class="ti">T (estimated)</text>
<text x="517.95" y="254.6" text-anchor="middle" class="pt">d</text>
<text x="646.75" y="293.9" class="lt">m</text>
<circle cx="656.35" cy="308.9" r="2.45" fill="#F8766D"/>
<text x="668.25" y="312.8" class="lg">0.1</text>
<circle cx="656.35" cy="328.3" r="2.45" fill="#A3A500"/>
<text x="668.25" y="332.2" class="lg">0.2</text>
<circle cx="656.35" cy="347.7" r="2.45" fill="#00BF7D"/>
<text x="668.25" y="351.6" class="lg">0.3</text>
<circle cx="656.35" cy="367.1" r="2.45" fill="#00B0F6"/>
<text x="668.25" y="371" class="lg">0.4</text>
<circle cx="656.35" cy="386.5" r="2.45" fill="#E76BF3"/>
<text x="668.25" y="390.4" class="lg">0.5</text>
</svg>
</body></html>
